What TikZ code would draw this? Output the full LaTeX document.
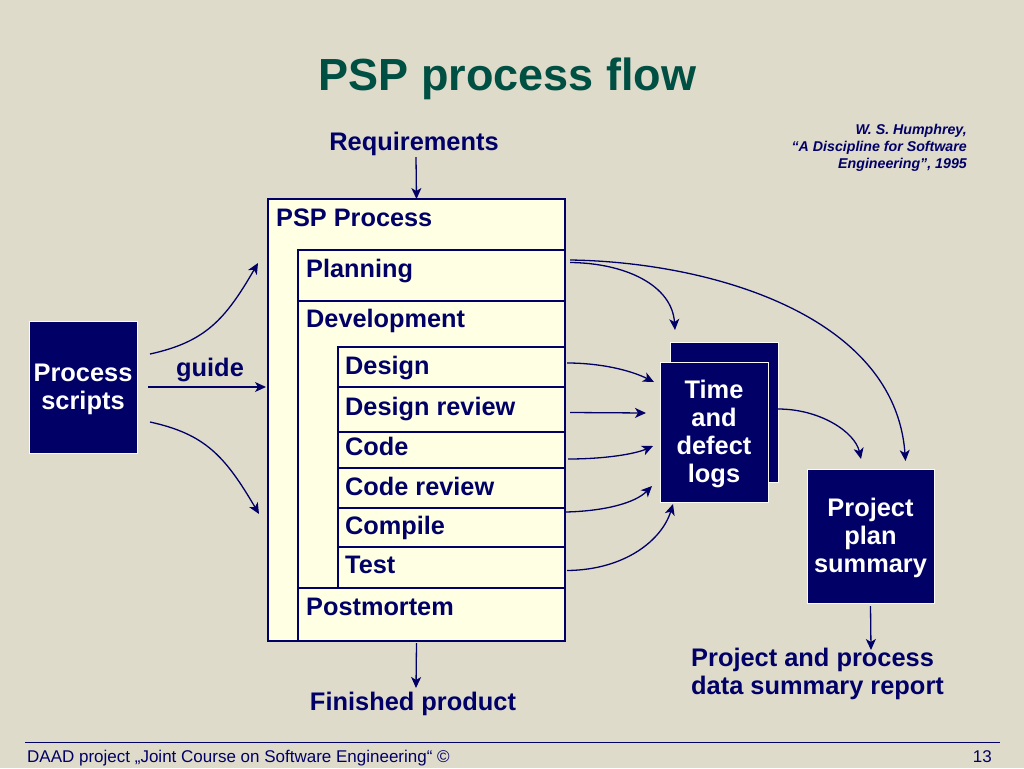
\documentclass[tikz,border=0pt]{standalone}
\usepackage{fontspec}
\usepackage{tikz}
\usetikzlibrary{arrows.meta}
\setmainfont{Liberation Sans}
\definecolor{pagebg}{HTML}{DFDBCB}
\definecolor{navy}{HTML}{000066}
\definecolor{paleyellow}{HTML}{FFFFE3}
\definecolor{titlegreen}{HTML}{004F43}
\tikzstyle{stagebox} = [draw=navy, fill=paleyellow, line width=1.1pt, anchor=north west, inner sep=0pt, outer sep=0pt]
\tikzstyle{stagetext} = [text=navy, font=\fontsize{25.3}{25.3}\selectfont\bfseries, anchor=base west, inner sep=0pt]
\tikzstyle{darkbox} = [draw=white!85!pagebg, fill=navy, line width=1pt, anchor=north west, inner sep=0pt, outer sep=0pt]
\tikzstyle{darktext} = [text=white, inner sep=0pt, align=center, font=\fontsize{25.4}{28}\selectfont\bfseries]
\tikzstyle{flowtext} = [text=navy, font=\fontsize{25.4}{28}\selectfont\bfseries, inner sep=0pt]
\tikzstyle{flow} = [draw=navy, line width=1.3pt, -{Stealth[length=11pt,width=10pt,inset=3pt]}]

\begin{document}
\begin{tikzpicture}[x=1pt, y=-1pt]
	\useasboundingbox (0,0) rectangle (1024,768);
	\fill[pagebg] (0,0) rectangle (1024,768);
	
	\node[text=titlegreen, font=\fontsize{45}{45}\selectfont\bfseries, inner sep=0pt, anchor=base] (title) at (507.5,90) {PSP process flow};
	\node[text=navy, font=\fontsize{14.2}{17}\selectfont\bfseries\itshape, align=right, inner sep=0pt, anchor=north east] (source) at (967,124) {W. S. Humphrey,\\``A Discipline for Software\\Engineering'', 1995};
	
	\node[stagebox, minimum width=297, minimum height=442] (psp) at (268,199) {};
	\node[stagebox, minimum width=267, minimum height=51] (planning) at (298,250) {};
	\node[stagebox, minimum width=267, minimum height=287] (development) at (298,301) {};
	\node[stagebox, minimum width=227, minimum height=40] (design) at (338,347) {};
	\node[stagebox, minimum width=227, minimum height=45] (designreview) at (338,387) {};
	\node[stagebox, minimum width=227, minimum height=36] (code) at (338,432) {};
	\node[stagebox, minimum width=227, minimum height=40] (codereview) at (338,468) {};
	\node[stagebox, minimum width=227, minimum height=39] (compile) at (338,508) {};
	\node[stagebox, minimum width=227, minimum height=41] (test) at (338,547) {};
	\node[stagebox, minimum width=267, minimum height=53] (postmortem) at (298,588) {};
	
	\node[stagetext] (psplabel) at ([shift=({8,27})] psp.north west) {PSP Process};
	\node[stagetext] (planninglabel) at ([shift=({8,27})] planning.north west) {Planning};
	\node[stagetext] (developmentlabel) at ([shift=({8,26})] development.north west) {Development};
	\node[stagetext] (designlabel) at ([shift=({7,27})] design.north west) {Design};
	\node[stagetext] (designreviewlabel) at ([shift=({7,28})] designreview.north west) {Design review};
	\node[stagetext] (codelabel) at ([shift=({7,23.5})] code.north west) {Code};
	\node[stagetext] (codereviewlabel) at ([shift=({7,27})] codereview.north west) {Code review};
	\node[stagetext] (compilelabel) at ([shift=({7,26.5})] compile.north west) {Compile};
	\node[stagetext] (testlabel) at ([shift=({7,26.5})] test.north west) {Test};
	\node[stagetext] (postmortemlabel) at ([shift=({8,27})] postmortem.north west) {Postmortem};
	
	\node[darkbox, minimum width=108, minimum height=132] (scripts) at (29,321) {};
	\node[darkbox, minimum width=108, minimum height=140] (logsback) at (670,342) {};
	\node[darkbox, minimum width=108, minimum height=140] (logs) at (660,362) {};
	\node[darkbox, minimum width=127, minimum height=134] (summary) at (807,469) {};
	
	\node[darktext] (scriptslabel) at ([shift=({0,2})] scripts.center) {Process\\scripts};
	\node[darktext] (logslabel) at ([shift=({0,1.5})] logs.center) {Time\\and\\defect\\logs};
	\node[darktext] (summarylabel) at ([shift=({0,1.5})] summary.center) {Project\\plan\\summary};
	
	\node[flowtext] (requirements) at (414,144) {Requirements};
	\node[flowtext] (finished) at (413,704) {Finished product};
	\node[flowtext] (guide) at (210,370) {guide};
	\node[flowtext, align=left, anchor=north west] (report) at (691,648) {Project and process\\data summary report};
	
	\draw[flow] ([shift=({2,1})] requirements.south) -- (psp.north);
	\draw[flow] ([shift=({0,2})] psp.south) -- ([shift=({3,-4})] finished.north);
	
	\draw[flow] ([shift=({13,33})] scripts.north east) .. controls (205,342) and (225,320) .. ([shift=({-10,64})] psp.north west);
	\draw[flow] ([shift=({11,66})] scripts.north east) -- ([shift=({-2,188})] psp.north west);
	\draw[flow] ([shift=({13,-31})] scripts.south east) .. controls (205,434) and (225,456) .. ([shift=({-9,315})] psp.north west);
	
	\draw[flow] ([shift=({5,-13})] planning.east) .. controls (625,263) and (672,285) .. ([shift=({5,-12})] logsback.north west);
	\draw[flow] ([shift=({5,-15.5})] planning.east) .. controls (710,262) and (895,315) .. ([shift=({98.5,-8})] summary.north west);
	\draw[flow] ([shift=({2,-4})] design.east) .. controls (600,363) and (630,370) .. ([shift=({-6,20})] logs.north west);
	\draw[flow] ([shift=({5,3})] designreview.east) -- ([shift=({-14,51})] logs.north west);
	\draw[flow] ([shift=({3,9})] code.east) .. controls (605,459) and (635,454) .. ([shift=({-7,84})] logs.north west);
	\draw[flow] ([shift=({1,24})] codereview.east) .. controls (605,511) and (635,503) .. ([shift=({-8,124})] logs.north west);
	\draw[flow] ([shift=({2,3})] test.east) .. controls (625,570) and (662,540) .. ([shift=({13,2})] logs.south west);
	\draw[flow] ([shift=({0,-3})] logsback.east) .. controls (820,409) and (855,432) .. ([shift=({54,-10})] summary.north west);
	\draw[flow] ([shift=({0,3})] summary.south) -- ([shift=({180,2})] report.north west);
	
	\coordinate (ruleleft) at (25,742.5);
	\coordinate (ruleright) at (1000,742.5);
	\draw[navy, line width=1pt] (ruleleft) -- (ruleright);
	\node[text=navy, font=\fontsize{17}{17}\selectfont, inner sep=0pt, anchor=base west] (footer) at (27,762) {DAAD project „Joint Course on Software Engineering“ ©};
	\node[text=navy, font=\fontsize{17}{17}\selectfont, inner sep=0pt, anchor=base east] (pagenumber) at (992,762) {13};
\end{tikzpicture}
\end{document}
